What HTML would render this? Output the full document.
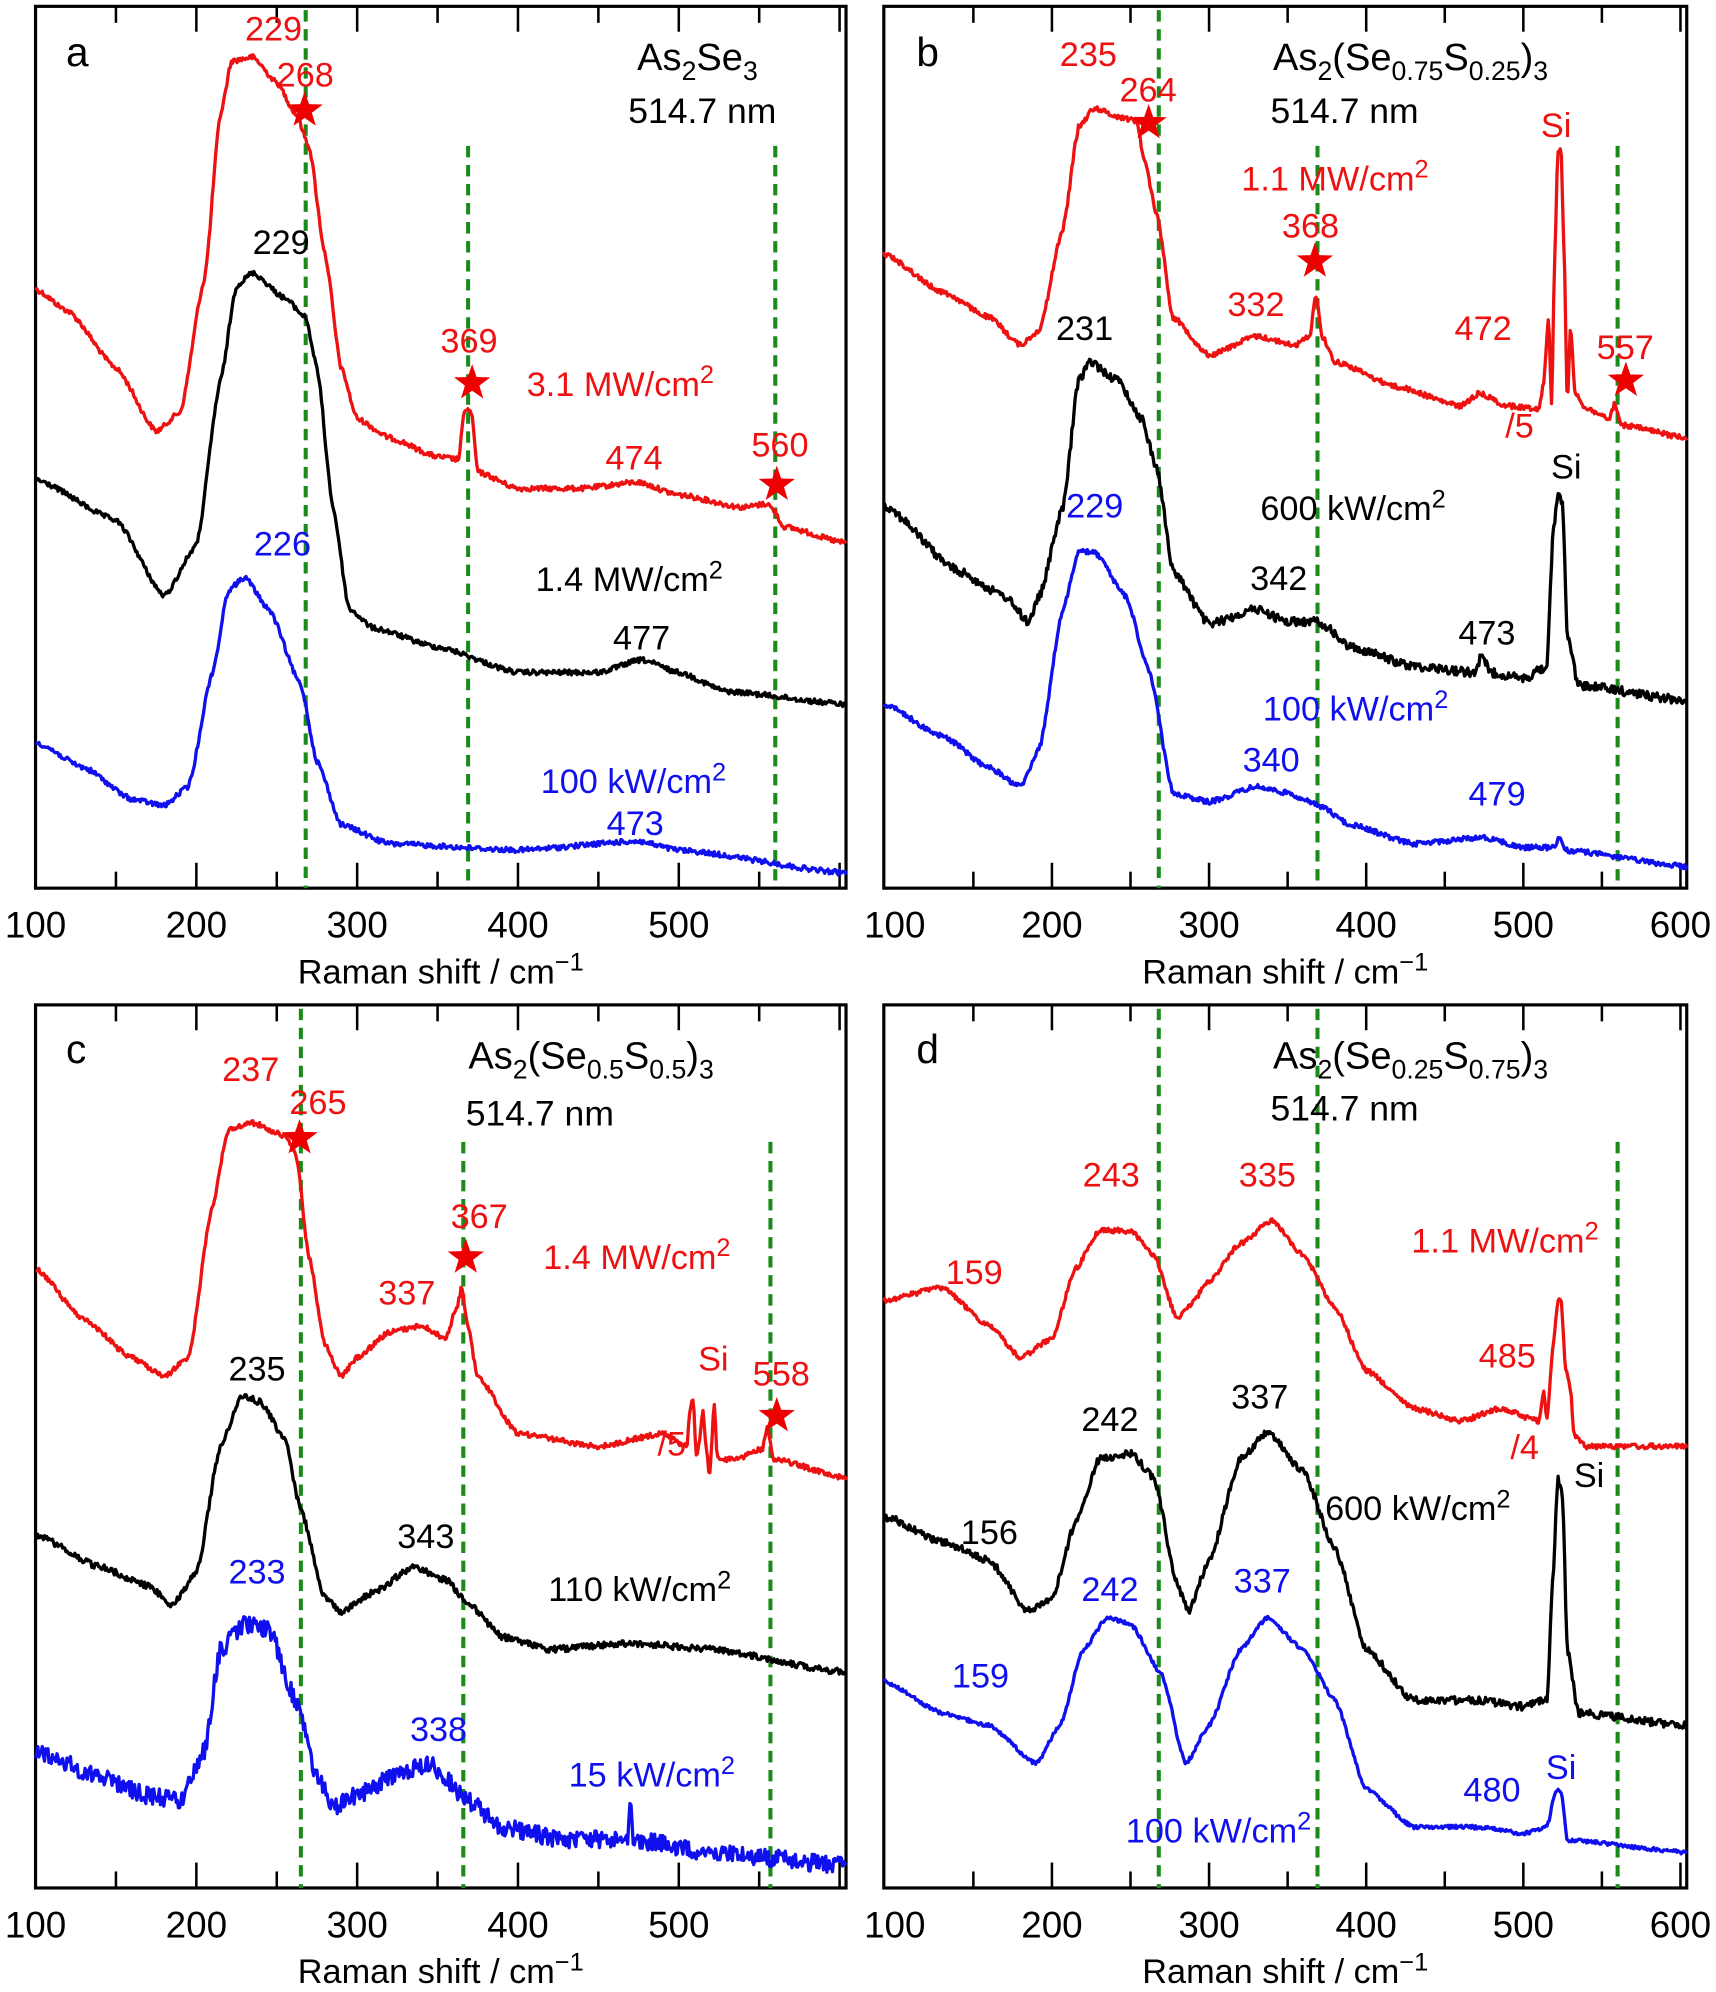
<!DOCTYPE html>
<html><head><meta charset="utf-8"><style>
html,body{margin:0;padding:0;background:#fff}
svg{display:block}
text{font-family:"Liberation Sans",Arial,sans-serif}
</style></head><body>
<svg id="s" width="1716" height="1992" viewBox="0 0 1352 1570" preserveAspectRatio="none" xmlns="http://www.w3.org/2000/svg">
<g id="g"></g>
</svg>
<script>
var NS="http://www.w3.org/2000/svg",G=document.getElementById('g');
function el(t,a,txt){var e=document.createElementNS(NS,t);for(var k in a)e.setAttribute(k,a[k]);if(txt!==undefined)e.innerHTML=txt;G.appendChild(e);return e;}
var seed=12345;function rnd(){seed=(seed*1103515245+12345)%2147483648;return seed/2147483648-0.5;}
var P={
a:{x0:28,k:1.267,top:5,bot:700,vmin:100,vmax:604},
b:{x0:705,k:1.238,top:5,bot:700,vmin:93,vmax:604},
c:{x0:28,k:1.267,top:792,bot:1488,vmin:100,vmax:604},
d:{x0:705,k:1.238,top:792,bot:1488,vmin:93,vmax:604}};
function X(p,v){return p.x0+(v-100)*p.k;}
function curve(p,pts,col,amp,off){
 off=off||0;
 pts=pts.map(function(q){var v=q[0];if(v>195&&v<300)v+=off;return [v,q[1]];});
 var d="",i=0;
 for(var v=pts[0][0];v<=pts[pts.length-1][0];v+=0.7){
  while(i<pts.length-2&&v>pts[i+1][0])i++;
  var a=pts[i],b=pts[i+1],t=(v-a[0])/(b[0]-a[0]);t=Math.max(0,Math.min(1,t));
  var s=t*t*(3-2*t);var tt=0.5*t+0.5*s;
  var y=a[1]+(b[1]-a[1])*tt+rnd()*amp*2;
  d+=(d?"L":"M")+X(p,v).toFixed(1)+" "+y.toFixed(1);
 }
 el('path',{d:d,fill:'none',stroke:col,'stroke-width':2.6,'stroke-linejoin':'round'});
}
function frame(p,right){
 var xl=p.x0-(p.vmin<100?(100-p.vmin)*p.k:0),xr=X(p,p.vmax);
 el('rect',{x:xl,y:p.top,width:xr-xl,height:p.bot-p.top,fill:'none',stroke:'#000','stroke-width':2.5});
 for(var v=150;v<p.vmax;v+=50){var x=X(p,v),L=(v%100==0)?20:13;
  el('line',{x1:x,y1:p.bot,x2:x,y2:p.bot-L,stroke:'#000','stroke-width':2});
  el('line',{x1:x,y1:p.top,x2:x,y2:p.top+L,stroke:'#000','stroke-width':2});}
 var vs=[100,200,300,400,500];if(right)vs.push(600);
 vs.forEach(function(v){el('text',{x:X(p,v),y:p.bot+39,'font-size':29,'text-anchor':'middle'},v);});
 el('text',{x:(xl+xr)/2,y:p.bot+75,'font-size':27,'text-anchor':'middle'},'Raman shift / cm<tspan dy="-10" font-size="20">−1</tspan>');
}
function green(p,v,y1){el('line',{x1:X(p,v),y1:y1,x2:X(p,v),y2:p.bot,stroke:'#1a8a1a','stroke-width':3.2,'stroke-dasharray':'9,6'});}
function star(x,y){var s="";for(var i=0;i<10;i++){var r=i%2?6:15,a=Math.PI/5*i-Math.PI/2;s+=(x+r*Math.cos(a)).toFixed(1)+","+(y+r*Math.sin(a)).toFixed(1)+" ";}el('polygon',{points:s,fill:'#e00'});}
function T(x,y,s,c,sz,anc){el('text',{x:x,y:y,'font-size':sz||27,fill:c||'#000','text-anchor':anc||'start'},s);}
var R='#ee1111',K='#000',B='#1010ee';
// Panel a
var p=P.a;frame(p,false);
green(p,268,8);green(p,369,115);green(p,560,115);
curve(p,[[100,228],[120,245],[150,290],[175,340],[190,325],[205,220],[215,90],[222,48],[235,45],[250,65],[262,90],[270,115],[280,200],[290,290],[300,330],[320,345],[350,360],[363,362],[367,322],[371,325],[375,372],[400,385],[440,385],[474,380],[500,390],[540,400],[555,397],[559,402],[565,415],[604,428]],R,2);
curve(p,[[100,378],[150,410],[180,470],[200,430],[215,300],[225,225],[235,215],[255,235],[268,250],[275,290],[285,400],[295,480],[310,495],[350,510],[400,530],[450,530],[477,520],[500,530],[530,545],[604,555]],K,2);
curve(p,[[100,585],[130,605],[160,630],[180,635],[195,620],[210,530],[220,465],[230,455],[245,480],[265,540],[275,600],[290,650],[320,665],[400,670],[474,663],[500,670],[604,688]],B,2);
T(52,52,'a',K,32);
T(502,55,'As<tspan dy="8" font-size="21">2</tspan><tspan dy="-8">Se</tspan><tspan dy="8" font-size="21">3</tspan>',K,30);
T(495,97,'514.7 nm',K,28);
T(193,32,'229',R);star(240,87);T(218,68,'268',R);
T(199,200,'229',K);T(200,438,'226',B);
star(372,302);T(347,278,'369',R);T(415,312,'3.1 MW/cm<tspan dy="-10" font-size="20">2</tspan>',R);
T(477,370,'474',R);star(612,382);T(592,360,'560',R);
T(422,466,'1.4 MW/cm<tspan dy="-10" font-size="20">2</tspan>',K);T(483,512,'477',K);
T(426,625,'100 kW/cm<tspan dy="-10" font-size="20">2</tspan>',B);T(478,658,'473',B);
// Panel b
p=P.b;frame(p,true);
green(p,268,8);green(p,369,115);green(p,560,115);
curve(p,[[93,200],[130,230],[160,250],[180,272],[200,260],[215,180],[225,100],[235,85],[250,92],[262,95],[266,122],[275,170],[285,250],[300,280],[330,265],[355,272],[364,265],[368,232],[372,265],[380,285],[420,305],[460,320],[472,310],[490,320],[510,322],[513,300],[516,250],[518,320],[520,200],[522,118],[524,118],[526,200],[528,320],[530,258],[533,310],[540,322],[555,330],[558,318],[562,335],[604,345]],R,2,-8);
curve(p,[[93,398],[140,450],[170,470],[185,490],[200,470],[215,400],[225,300],[232,285],[250,300],[265,330],[275,370],[285,450],[300,492],[330,480],[350,490],[370,490],[390,510],[430,525],[470,530],[473,518],[480,530],[500,535],[515,525],[519,420],[522,390],[525,395],[528,500],[535,540],[604,552]],K,3.5,-8);
curve(p,[[93,555],[130,580],[160,605],[180,620],[200,590],[215,480],[225,435],[235,435],[255,470],[270,530],[285,625],[300,632],[330,620],[350,625],[370,635],[390,650],[430,665],[475,660],[500,668],[520,668],[523,658],[526,670],[604,683]],B,2,-8);
T(722,52,'b',K,32);
T(1003,55,'As<tspan dy="8" font-size="21">2</tspan><tspan dy="-8">(Se</tspan><tspan dy="8" font-size="21">0.75</tspan><tspan dy="-8">S</tspan><tspan dy="8" font-size="21">0.25</tspan><tspan dy="-8">)</tspan><tspan dy="8" font-size="21">3</tspan>',K,30);
T(1001,97,'514.7 nm',K,28);
T(835,52,'235',R);T(882,80,'264',R);star(905,97);
T(978,150,'1.1 MW/cm<tspan dy="-10" font-size="20">2</tspan>',R);
T(1010,187,'368',R);star(1036,206);T(967,249,'332',R);T(1146,268,'472',R);
T(1214,108,'Si',R);T(1258,283,'557',R);star(1281,300);T(1186,345,'/5',R);
T(1222,377,'Si',K);T(832,268,'231',K);T(993,410,'600 kW/cm<tspan dy="-10" font-size="20">2</tspan>',K);
T(985,465,'342',K);T(1149,508,'473',K);
T(840,408,'229',B);T(995,568,'100 kW/cm<tspan dy="-10" font-size="20">2</tspan>',B);T(979,608,'340',B);T(1157,635,'479',B);
// Panel c
p=P.c;frame(p,false);
green(p,265,795);green(p,366,900);green(p,557,900);
curve(p,[[100,1000],[130,1040],[160,1070],[180,1085],[195,1070],[210,950],[220,890],[235,885],[255,895],[262,910],[270,990],[280,1060],[290,1085],[300,1070],[320,1050],[340,1045],[355,1055],[362,1030],[365,1015],[368,1040],[375,1085],[400,1130],[450,1140],[490,1130],[505,1140],[507,1110],[509,1102],[511,1150],[513,1135],[515,1110],[517,1140],[519,1165],[520,1150],[522,1105],[524,1150],[535,1150],[552,1142],[555,1125],[559,1150],[604,1165]],R,2);
curve(p,[[100,1210],[140,1235],[170,1250],[185,1265],[200,1240],[215,1140],[228,1100],[240,1105],[255,1135],[265,1190],[280,1260],[290,1270],[310,1255],[335,1235],[355,1245],[370,1265],[390,1290],[420,1300],[470,1295],[520,1300],[604,1318]],K,2.5);
curve(p,[[100,1380],[140,1400],[170,1415],[190,1420],[205,1380],[215,1300],[230,1280],[245,1285],[262,1340],[275,1400],[285,1425],[300,1415],[330,1395],[345,1390],[370,1420],[390,1440],[430,1450],[468,1450],[470,1418],[472,1450],[520,1460],[604,1470]],B,7);
T(52,838,'c',K,32);
T(369,842,'As<tspan dy="8" font-size="21">2</tspan><tspan dy="-8">(Se</tspan><tspan dy="8" font-size="21">0.5</tspan><tspan dy="-8">S</tspan><tspan dy="8" font-size="21">0.5</tspan><tspan dy="-8">)</tspan><tspan dy="8" font-size="21">3</tspan>',K,30);
T(367,887,'514.7 nm',K,28);
T(175,852,'237',R);T(228,878,'265',R);star(236,897);
T(355,968,'367',R);star(367,991);T(428,1000,'1.4 MW/cm<tspan dy="-10" font-size="20">2</tspan>',R);T(298,1028,'337',R);
T(550,1080,'Si',R);T(593,1092,'558',R);star(612,1116);T(518,1147,'/5',R);
T(180,1088,'235',K);T(313,1220,'343',K);T(432,1262,'110 kW/cm<tspan dy="-10" font-size="20">2</tspan>',K);
T(180,1248,'233',B);T(323,1372,'338',B);T(448,1408,'15 kW/cm<tspan dy="-10" font-size="20">2</tspan>',B);
// Panel d
p=P.d;frame(p,true);
green(p,268,795);green(p,369,795);green(p,560,900);
curve(p,[[93,1025],[130,1015],[160,1045],[180,1070],[200,1055],[215,1000],[230,970],[250,970],[265,990],[280,1040],[287,1030],[300,1010],[320,980],[340,962],[360,990],[380,1030],[400,1080],[430,1110],[460,1120],[485,1110],[510,1120],[513,1095],[515,1120],[519,1060],[522,1025],[524,1025],[527,1080],[530,1095],[532,1130],[540,1140],[604,1140]],R,2);
curve(p,[[93,1195],[130,1215],[160,1230],[185,1270],[200,1260],[215,1200],[230,1150],[250,1145],[265,1165],[280,1250],[287,1270],[300,1230],[320,1150],[337,1128],[360,1160],[380,1220],[400,1300],[430,1340],[470,1340],[500,1345],[515,1340],[519,1240],[522,1165],[525,1180],[528,1300],[535,1350],[604,1360]],K,3);
curve(p,[[93,1325],[130,1350],[160,1360],[190,1390],[205,1360],[220,1300],[235,1275],[250,1280],[270,1320],[285,1390],[300,1360],[320,1300],[337,1275],[360,1300],[380,1340],[400,1410],[430,1440],[470,1440],[500,1445],[515,1440],[521,1410],[524,1412],[528,1450],[604,1460]],B,1.5);
T(722,838,'d',K,32);
T(1003,842,'As<tspan dy="8" font-size="21">2</tspan><tspan dy="-8">(Se</tspan><tspan dy="8" font-size="21">0.25</tspan><tspan dy="-8">S</tspan><tspan dy="8" font-size="21">0.75</tspan><tspan dy="-8">)</tspan><tspan dy="8" font-size="21">3</tspan>',K,30);
T(1001,883,'514.7 nm',K,28);
T(853,935,'243',R);T(976,935,'335',R);T(745,1012,'159',R);
T(1112,987,'1.1 MW/cm<tspan dy="-10" font-size="20">2</tspan>',R);T(1165,1078,'485',R);T(1190,1150,'/4',R);
T(1240,1172,'Si',K);T(852,1128,'242',K);T(970,1110,'337',K);T(757,1217,'156',K);
T(1044,1198,'600 kW/cm<tspan dy="-10" font-size="20">2</tspan>',K);
T(852,1262,'242',B);T(972,1255,'337',B);T(750,1330,'159',B);T(1153,1420,'480',B);T(1218,1402,'Si',B);
T(887,1452,'100 kW/cm<tspan dy="-10" font-size="20">2</tspan>',B);
</script>
</body></html>
